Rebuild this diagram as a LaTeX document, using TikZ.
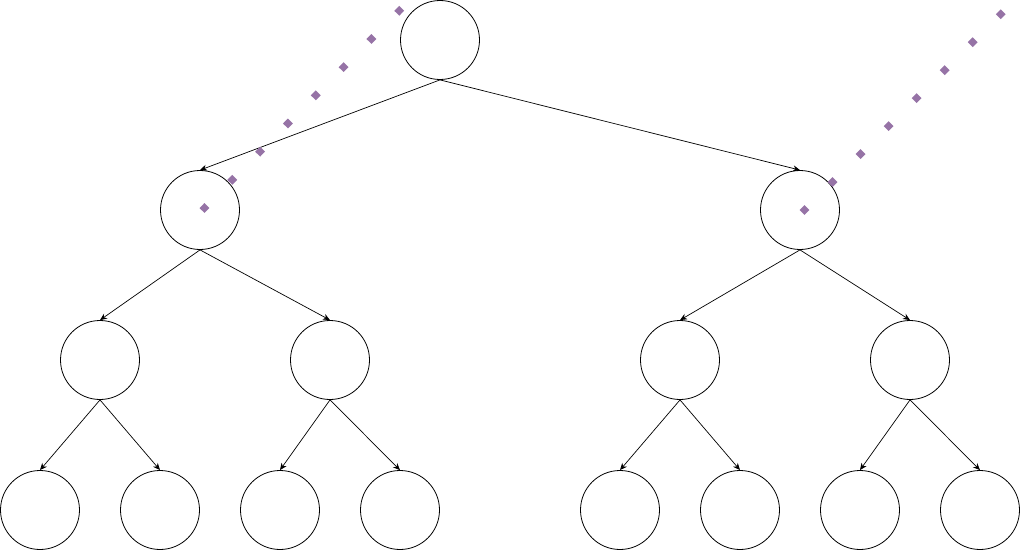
\documentclass[tikz,border=0pt]{standalone}
\usetikzlibrary{arrows.meta}
\definecolor{vio}{HTML}{9673A6}
\begin{document}
\begin{tikzpicture}[x=1pt,y=-1pt,
  nd/.style={circle,draw,minimum size=79pt,inner sep=0pt,line width=0.8pt},
  ed/.style={-{Stealth[length=7pt,width=6pt]},line width=0.7pt},
  dots/.style={vio,line width=7pt,dash pattern=on 7pt off 32.6pt}]
\useasboundingbox (0,0) rectangle (1021,551);
\node[nd] (r) at (440,40) {};
\node[nd] (a) at (200,210) {};
\node[nd] (b) at (800,210) {};
\node[nd] (a1) at (100,360) {};
\node[nd] (a2) at (330,360) {};
\node[nd] (b1) at (680,360) {};
\node[nd] (b2) at (910,360) {};
\foreach \n/\x in {c1/40,c2/160,c3/280,c4/400,c5/620,c6/740,c7/860,c8/980}
  \node[nd] (\n) at (\x,510) {};
\draw[ed] (r.south) -- (a.north);
\draw[ed] (r.south) -- (b.north);
\draw[ed] (a.south) -- (a1.north);
\draw[ed] (a.south) -- (a2.north);
\draw[ed] (b.south) -- (b1.north);
\draw[ed] (b.south) -- (b2.north);
\draw[ed] (a1.south) -- (c1.north);
\draw[ed] (a1.south) -- (c2.north);
\draw[ed] (a2.south) -- (c3.north);
\draw[ed] (a2.south) -- (c4.north);
\draw[ed] (b1.south) -- (c5.north);
\draw[ed] (b1.south) -- (c6.north);
\draw[ed] (b2.south) -- (c7.north);
\draw[ed] (b2.south) -- (c8.north);
\coordinate (p1) at (202,210.5);
\coordinate (q1) at (402,8);
\coordinate (p2) at (802,212.5);
\coordinate (q2) at (1005,10);
\draw[dots] (p1) -- (q1);
\draw[dots] (p2) -- (q2);
\end{tikzpicture}
\end{document}
